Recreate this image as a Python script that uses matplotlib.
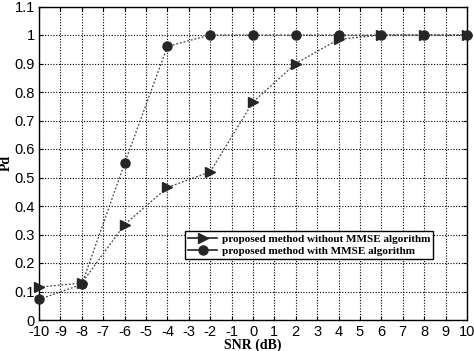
import matplotlib
matplotlib.use("Agg")
import matplotlib.pyplot as plt
from matplotlib.lines import Line2D

plt.rcParams["axes.unicode_minus"] = False

snr = [-10, -8, -6, -4, -2, 0, 2, 4, 6, 8, 10]
pd_without = [0.115, 0.13, 0.335, 0.465, 0.52, 0.765, 0.90, 0.985, 1.0, 1.0, 1.0]
pd_with = [0.072, 0.125, 0.55, 0.96, 1.0, 1.0, 1.0, 1.0, 1.0, 1.0, 1.0]
labels = ["proposed method without MMSE algorithm",
          "proposed method with MMSE algorithm"]
xticks = list(range(-10, 11))
yticks = [round(0.1 * i, 1) for i in range(12)]
yticklabels = ["0", "0.1", "0.2", "0.3", "0.4", "0.5", "0.6", "0.7", "0.8", "0.9", "1", "1.1"]

fig = plt.figure(figsize=(4.74, 3.51), dpi=100)
ax = fig.add_axes([39/474, 1 - 320/351, (467-39)/474, (320-6.5)/351])

lc = "#444444"
mc = "#262626"
ax.plot(snr, pd_without, linestyle=(0, (1.5, 1.5)), color=lc, linewidth=0.9,
        marker=">", markersize=7.5, markerfacecolor=mc, markeredgecolor=mc, zorder=3, clip_on=False)
ax.plot(snr, pd_with, linestyle=(0, (1.5, 1.5)), color=lc, linewidth=0.9,
        marker="o", markersize=6.5, markerfacecolor=mc, markeredgecolor=mc, zorder=3, clip_on=False)

ax.set_xlim(-10, 10)
ax.set_ylim(0, 1.1)
ax.set_xticks(xticks)
ax.set_yticks(yticks)
ax.set_yticklabels(yticklabels)
ax.tick_params(direction="in", top=True, right=True, length=3, width=0.8,
               labelsize=10.5, pad=3)
ax.tick_params(axis="x", pad=3.5)
for lab in ax.get_xticklabels() + ax.get_yticklabels():
    lab.set_fontfamily("Liberation Sans")
ax.grid(True, linestyle=(0, (1, 1.5)), color="black", linewidth=0.8)
for s in ax.spines.values():
    s.set_linewidth(1.0)

ax.set_xlabel("SNR (dB)", fontfamily="Liberation Serif", fontweight="bold",
              fontsize=10, labelpad=0)
ax.set_ylabel("Pd", fontfamily="Liberation Serif", fontweight="bold",
              fontsize=10, labelpad=1)

handles = [
    Line2D([], [], color="#222222", linewidth=1.2, marker=">", markersize=7.5,
           markerfacecolor=mc, markeredgecolor=mc),
    Line2D([], [], color="#222222", linewidth=1.2, marker="o", markersize=6.5,
           markerfacecolor=mc, markeredgecolor=mc),
]
leg = ax.legend(handles, labels, loc="upper left",
                bbox_to_anchor=((185-39)/(467-39), (320-230.5)/(320-6.5)),
                prop={"family": "Liberation Serif", "weight": "bold", "size": 8},
                frameon=True, fancybox=False, edgecolor="black", framealpha=1,
                borderpad=0.3, handlelength=2.6, handletextpad=0.4,
                labelspacing=0.2, borderaxespad=0)
leg.get_frame().set_linewidth(1.0)

fig.savefig("out.png", dpi=100)
